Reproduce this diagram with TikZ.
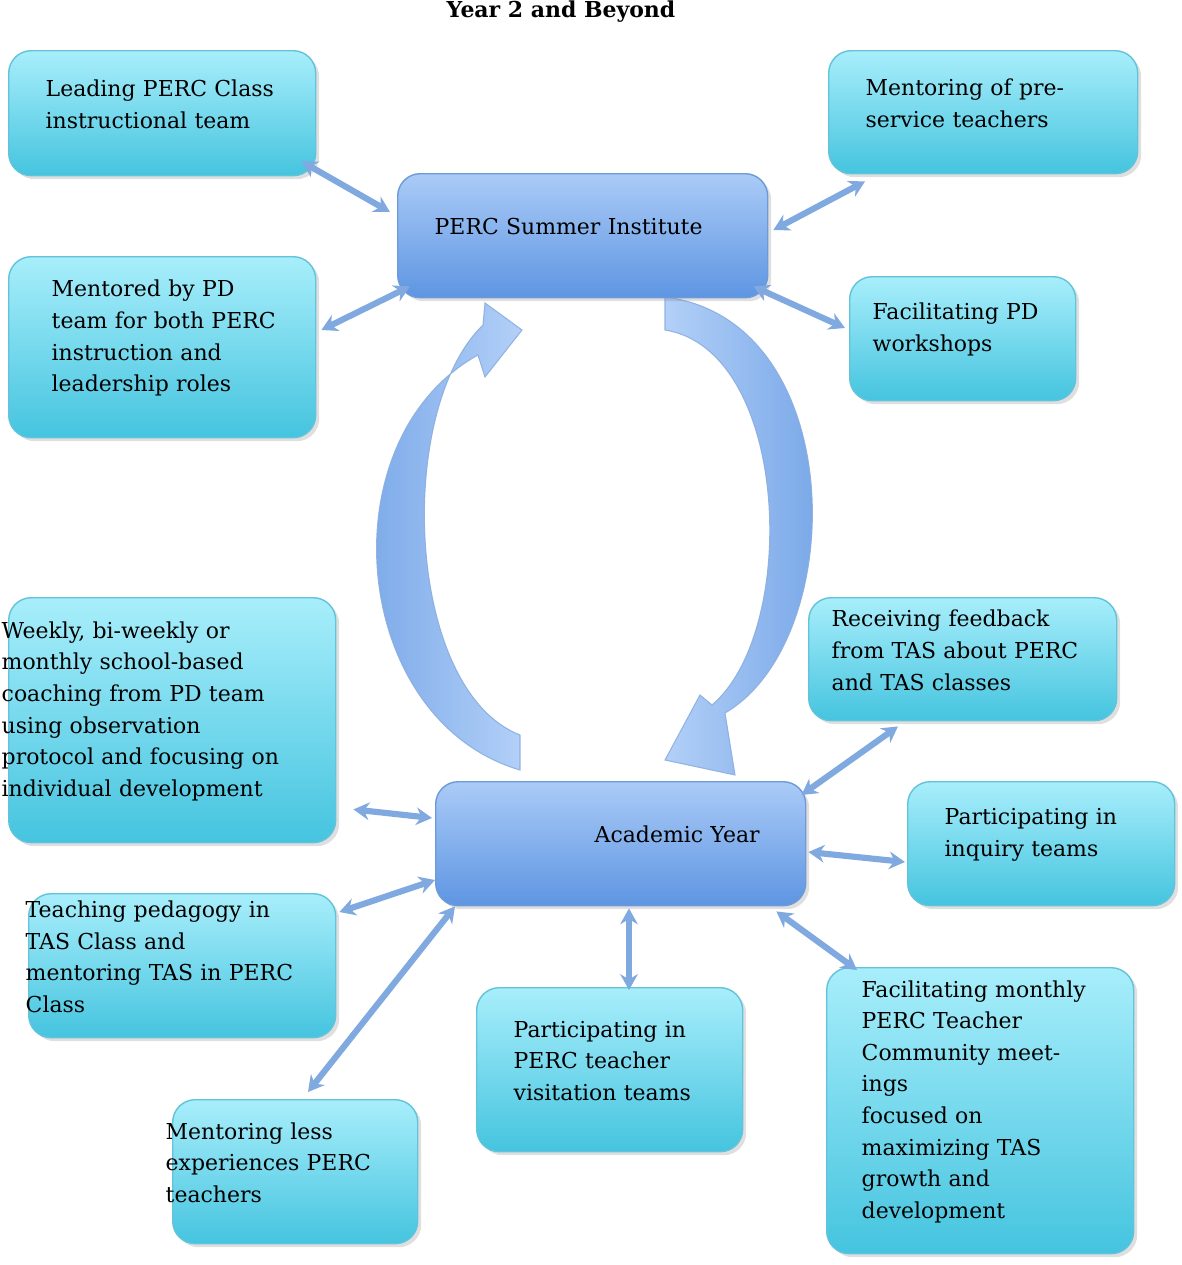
\documentclass[tikz,border=0pt]{standalone}
\usepackage{fontspec}
\setmainfont{DejaVu Serif}
\usetikzlibrary{calc,arrows.meta,shadows}
\definecolor{cyT}{HTML}{A8EEFB}
\definecolor{cyB}{HTML}{45C4DF}
\definecolor{cyD}{HTML}{62C3DA}
\definecolor{blT}{HTML}{AACBF7}
\definecolor{blB}{HTML}{5E95E2}
\definecolor{blD}{HTML}{6E9AD8}
\definecolor{arr}{HTML}{7FA9DF}
\tikzset{
 box/.style={draw=cyD,line width=0.8pt,rounded corners=0.45cm,top color=cyT,bottom color=cyB,
   drop shadow={shadow xshift=2pt,shadow yshift=-2pt,opacity=0.25},anchor=north west,inner sep=0pt},
 cbox/.style={box,draw=blD,top color=blT,bottom color=blB},
 txt/.style={align=left,inner sep=0pt,font=\fontsize{12.5}{18}\selectfont},
 dbl/.style={{Stealth[length=9pt,width=10pt]}-{Stealth[length=9pt,width=10pt]},draw=arr,line width=3.5pt},
 big/.style={draw=blD!80,line width=0.6pt,left color=blB,right color=blT,opacity=0.9}
}
\newcommand{\bx}[7]{\node[#1,minimum width=#4*0.02cm,minimum height=#5*0.02cm] (#2) at #3 {};
 \node[txt,text width=(#4-#6)*0.02cm] (#2t) at ($(#2.center)+(#6/2-37,-9)$) {#7};}
\begin{document}
\begin{tikzpicture}[x=0.02cm,y=-0.02cm]
\useasboundingbox (0,0) rectangle (1181,1265);
\node[font=\fontsize{12.5}{14}\bfseries\selectfont] (T) at (561,12) {Year 2 and Beyond};
% curved arrows
\path[big] (520,770) .. controls (350,720) and (325,440) .. (478,355) -- (485,377) -- (522,330) -- (485,303) -- (483,325) .. controls (395,410) and (405,690) .. (520,735) -- cycle;
\path[big,left color=blT,right color=blB] (665,297) .. controls (850,320) and (850,640) .. (725,713) -- (735,775) -- (665,760) -- (700,695) -- (712,705) .. controls (800,630) and (790,350) .. (665,330) -- cycle;
% boxes
\bx{box}{A}{(8,50)}{307}{125}{74}{Leading PERC Class\\instructional team}
\bx{box}{B}{(828,50)}{309}{123}{74}{Mentoring of pre-\\service teachers}
\bx{cbox}{S}{(397,173)}{370}{124}{74}{PERC Summer Institute}
\bx{box}{C}{(8,256)}{307}{181}{80}{Mentored by PD\\team for both PERC\\instruction and\\leadership roles}
\bx{box}{D}{(849,276)}{226}{124}{60}{Facilitating PD\\workshops}
\bx{box}{E}{(8,597)}{327}{245}{30}{Weekly, bi-weekly or\\monthly school-based\\coaching from PD team\\using observation\\protocol and focusing on\\individual development}
\bx{box}{F}{(808,597)}{308}{123}{60}{Receiving feedback\\from TAS about PERC\\and TAS classes}
\bx{cbox}{Y}{(435,781)}{370}{124}{196}{Academic Year}
\bx{box}{G}{(907,781)}{267}{124}{74}{Participating in\\inquiry teams}
\bx{box}{H}{(28,893)}{307}{144}{34}{Teaching pedagogy in\\TAS Class and\\mentoring TAS in PERC\\Class}
\bx{box}{I}{(476,987)}{266}{164}{74}{Participating in\\PERC teacher\\visitation teams}
\bx{box}{J}{(826,967)}{307}{286}{72}{Facilitating monthly\\PERC Teacher\\Community meetings\\focused on\\maximizing TAS\\growth and\\development}
\bx{box}{K}{(172,1099)}{245}{144}{30}{Mentoring less\\experiences PERC\\teachers}
% connectors
\draw[dbl] ($(A.south east)+(-15,-15)$) -- ($(S.north west)+(-7,39)$);
\draw[dbl] ($(B.south west)+(37,7)$) -- ($(S.north east)+(5,57)$);
\draw[dbl] ($(C.north east)+(5,74)$) -- ($(S.south west)+(13,-12)$);
\draw[dbl] ($(D.north west)+(-4,52)$) -- ($(S.south east)+(-15,-12)$);
\draw[dbl] ($(E.south east)+(17,-34)$) -- ($(Y.north west)+(-3,37)$);
\draw[dbl] ($(F.south west)+(90,5)$) -- ($(Y.north east)+(-5,14)$);
\draw[dbl] ($(G.north west)+(-2,81)$) -- ($(Y.north east)+(2,71)$);
\draw[dbl] ($(H.north east)+(3,19)$) -- ($(Y.north west)+(0,99)$);
\draw[dbl] ($(K.north west)+(136,-7)$) -- ($(Y.south west)+(20,0)$);
\draw[dbl] ($(I.north west)+(153,3)$) -- ($(Y.south west)+(194,2)$);
\draw[dbl] ($(J.north west)+(31,3)$) -- ($(Y.south east)+(-30,5)$);
\end{tikzpicture}
\end{document}
